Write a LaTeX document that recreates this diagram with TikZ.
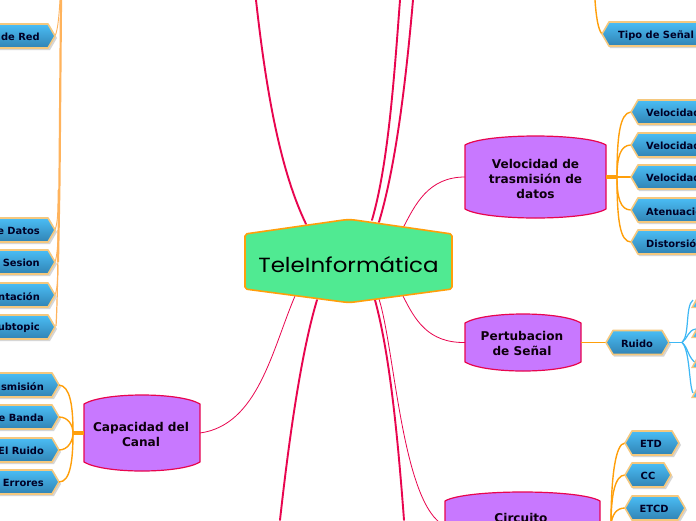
\documentclass[tikz,border=0pt]{standalone}
\usepackage{fontspec}
\setmainfont{DejaVu Sans}
\newfontfamily\titlefont{Poppins}
\usetikzlibrary{positioning,calc}
\definecolor{rama}{HTML}{E8054F}
\definecolor{naran}{HTML}{FF9F0A}
\definecolor{claro}{HTML}{FFB35C}
\definecolor{celeste}{HTML}{3DB8F5}
\definecolor{violeta}{HTML}{C878FF}
\definecolor{verde}{HTML}{50EA92}
\definecolor{borde}{HTML}{F5C87E}
\definecolor{azula}{HTML}{4ABDF5}
\definecolor{azulb}{HTML}{3183B4}
\tikzset{
  x=1pt,y=-1pt,
  branch/.style={draw=rama,line width=1.9pt,line cap=round},
  twig/.style={draw=rama,line width=.8pt},
  leafline/.style={draw=naran,line width=1.4pt},
  paleline/.style={draw=claro,line width=2.2pt},
  stem/.style={draw=naran,line width=3.2pt},
  topic/.style={font=\bfseries\fontsize{12.1}{15}\selectfont,align=center,text=black!90!violet,inner sep=0pt},
  leaf/.style={font=\bfseries\fontsize{9.9}{12}\selectfont,text=black!85!blue,inner sep=0pt,yshift=-1.2pt},
}
% hexagonal leaf: left x, right x, mid y, name
\newcommand{\leafshape}[4]{%
  \fill[black!16] (#1+8,#3-10) -- (#2-5,#3-10) -- (#2+2,#3+2) -- (#2-5,#3+14) -- (#1+8,#3+14) -- (#1+1,#3+2) -- cycle;
  \path[top color=azula,bottom color=azulb,draw=borde,line width=1.6pt,line join=round]
    (#1+7,#3-12) -- (#2-7,#3-12) -- (#2,#3) -- (#2-7,#3+12) -- (#1+7,#3+12) -- (#1,#3) -- cycle;
  \coordinate (#4L) at (#1,#3);
  \coordinate (#4R) at (#2,#3);
}
% barrel topic: left, right, top, bottom, name
\newcommand{\topicshape}[5]{%
  \path[fill=violeta,draw=rama,line width=1.2pt,line join=round]
    (#1,#3+9) .. controls (#1+20,#3-3) and (#2-20,#3-3) .. (#2,#3+9)
    -- (#2,#4-9) .. controls (#2-20,#4+3) and (#1+20,#4+3) .. (#1,#4-9) -- cycle;
  \coordinate (#5L) at (#1,{(#3+#4)/2});
  \coordinate (#5R) at (#2,{(#3+#4)/2});
}
\begin{document}
\begin{tikzpicture}
\clip (0,0) rectangle (696,520);
\fill[white] (0,0) rectangle (696,520);

% anchors on the central node
\coordinate (c1) at (306,224);
\coordinate (c2) at (372,220);
\coordinate (c3) at (379,222);
\coordinate (c4) at (403,228);
\coordinate (c5) at (403,296);
\coordinate (c6) at (375,300);
\coordinate (c7) at (379,299);
\coordinate (c8) at (317,300);
\coordinate (c9) at (295,296);
\coordinate (t1) at (256,0);
\coordinate (t2) at (400,0);
\coordinate (t3) at (413,0);
\coordinate (b6) at (404,520);
\coordinate (b8) at (280,520);

\draw[branch] (c1) .. controls (280,170) and (266,90) .. (t1);
\draw[branch] (c2) .. controls (388,165) and (394,80) .. (t2);
\draw[branch] (c3) .. controls (396,165) and (406,80) .. (t3);
\draw[branch] (c6) .. controls (390,355) and (398,440) .. (b6);
\draw[branch] (c8) .. controls (302,350) and (290,430) .. (b8);

% topics
\topicshape{465}{606}{136}{218}{vel}
\topicshape{465}{581}{314}{371}{per}
\topicshape{84}{200}{395}{471}{cap}
\topicshape{445}{600}{492}{560}{cir}
\node[topic] (velt) at (535.5,178.5) {Velocidad de\\trasmisión de\\datos};
\node[topic] (pert) at (522,343) {Pertubacion\\de Señal};
\node[topic] (capt) at (141,434) {Capacidad del\\Canal};
\node[topic,anchor=north] (cirt) at (521,513.5) {Circuito};

\draw[twig] (c4) .. controls (415,205) and (428,177) .. (velL);
\draw[twig] (c5) .. controls (415,320) and (428,343) .. (perL);
\draw[twig] (c7) .. controls (395,350) and (402,505) .. (cirL);
\draw[twig] (c9) .. controls (272,350) and (258,425) .. (capR);

% central node
\path[fill=verde,draw=naran,line width=1.6pt,line join=round,rounded corners=2pt]
  (245,234) -- (340,220.5) .. controls (347,219.5) and (351,219.5) .. (358,220.5) -- (452,234)
  -- (452,289) -- (358,301.5) .. controls (351,302.5) and (347,302.5) .. (340,301.5) -- (245,289) -- cycle;
\node[font=\titlefont\fontsize{20.5}{24}\selectfont,inner sep=0pt] (central) at (348.5,264.5) {\scalebox{1.12}[1]{TeleInformática}};

% pale lines on the left, top
\draw[paleline] (61,0) -- (59.5,180) .. controls (59,210) and (58.5,235) .. (58,262);
\draw[draw=claro,line width=1.2pt] (58,255) .. controls (57.5,285) and (57,310) .. (56,326);
\draw[draw=claro,line width=.9pt] (60,0) .. controls (59,15) and (58,30) .. (55,36);
\draw[draw=claro,line width=.9pt] (58,190) .. controls (58,210) and (58,222) .. (55,230);
\draw[draw=claro,line width=.9pt] (58,230) .. controls (58,245) and (57,256) .. (55,262);
\draw[draw=claro,line width=.9pt] (58,265) .. controls (58,280) and (57,290) .. (55,295);

% left pale leaves
\leafshape{-40}{55}{36}{a}
\leafshape{-40}{55}{230}{b}
\leafshape{-40}{55}{262}{d}
\leafshape{-40}{55}{295}{e}
\leafshape{-40}{55}{327}{f}
\node[leaf,anchor=east] (at) at (40,36) {de Red};
\node[leaf,anchor=east] (bt) at (40,230) {e Datos};
\node[leaf,anchor=east] (dt) at (40,262) {Sesion};
\node[leaf,anchor=east] (et) at (40,295) {ntación};
\node[leaf,anchor=east] (ft) at (40,327) {ubtopic};

% Capacidad leaves
\leafshape{-40}{59}{385}{g}
\leafshape{-40}{59}{417}{h}
\leafshape{-40}{59}{450}{i}
\leafshape{-40}{59}{482}{j}
\node[leaf,anchor=east] (gt) at (44,385) {smisión};
\node[leaf,anchor=east] (ht) at (44,417) {e Banda};
\node[leaf,anchor=east] (it) at (44,450) {El Ruido};
\node[leaf,anchor=east] (jt) at (44,482) {Errores};
\coordinate (capj) at (73,433);
\draw[stem] (capL) -- (capj);
\draw[leafline] (capj) .. controls (73,405) and (70,386) .. (gR);
\draw[leafline] (capj) .. controls (73,425) and (68,417) .. (hR);
\draw[leafline] (capj) .. controls (73,441) and (68,450) .. (iR);
\draw[leafline] (capj) .. controls (73,462) and (70,482) .. (jR);

% Tipo de Señal
\draw[leafline] (595,0) .. controls (596,15) and (598,30) .. (602,34);
\leafshape{602}{740}{34}{k}
\node[leaf,anchor=west] (kt) at (618,34) {Tipo de Señal};

% Velocidad leaves
\coordinate (velj) at (617,177);
\draw[stem] (velR) -- (velj);
\draw[leafline] (velj) .. controls (617,135) and (620,113) .. (631,112);
\draw[leafline] (velj) .. controls (617,158) and (620,145) .. (631,145);
\draw[leafline] (velj) -- (631,177);
\draw[leafline] (velj) .. controls (617,197) and (620,210) .. (631,210);
\draw[leafline] (velj) .. controls (617,220) and (620,242) .. (631,242);
\leafshape{631}{760}{112}{l}
\leafshape{631}{760}{145}{m}
\leafshape{631}{760}{177}{n}
\leafshape{631}{760}{210}{o}
\leafshape{631}{760}{242}{p}
\node[leaf,anchor=west] (lt) at (646,112) {Velocidad};
\node[leaf,anchor=west] (mt) at (646,145) {Velocidad};
\node[leaf,anchor=west] (nt) at (646,177) {Velocidad};
\node[leaf,anchor=west] (ot) at (646,210) {Atenuación};
\node[leaf,anchor=west] (pt) at (646,242) {Distorsión};

% Ruido
\draw[draw=naran,line width=1.3pt] (perR) -- (606,342.5);
\leafshape{606}{669}{342.5}{r}
\node[leaf] (rt) at (637,342.5) {Ruido};
\coordinate (ruj) at (682,342.5);
\draw[draw=celeste,line width=1.6pt] (rR) -- (ruj);
\draw[draw=celeste,line width=1.2pt] (ruj) .. controls (690,335) and (685,306) .. (693,300);
\draw[draw=celeste,line width=1.2pt] (ruj) .. controls (688,338) and (688,330) .. (696,329);
\draw[draw=celeste,line width=1.2pt] (ruj) .. controls (688,347) and (688,358) .. (696,363);
\draw[draw=celeste,line width=1.2pt] (ruj) .. controls (690,350) and (689,386) .. (693,393);
\foreach \yy [count=\i] in {308,338,368,398}{
  \fill[borde] (696,\yy-9) -- (691,\yy) -- (696,\yy) -- cycle;
  \fill[azula] (696,\yy-5.5) -- (693.5,\yy-1.2) -- (696,\yy-1.2) -- cycle;
}

% Circuito leaves
\coordinate (cirj) at (611,525);
\draw[leafline] (cirj) .. controls (611,480) and (615,443) .. (625,443);
\draw[leafline] (cirj) .. controls (611,495) and (615,475) .. (625,475);
\draw[leafline] (cirj) .. controls (612,515) and (616,508) .. (625,508);
\leafshape{625}{679}{443}{s}
\leafshape{625}{671}{475}{u}
\leafshape{625}{685}{508}{v}
\node[leaf] (st) at (651,443) {ETD};
\node[leaf] (ut) at (648,475) {CC};
\node[leaf] (vt) at (654,508) {ETCD};
\end{tikzpicture}
\end{document}
